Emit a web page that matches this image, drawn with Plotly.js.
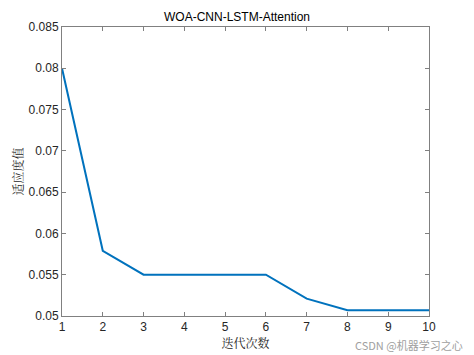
<!DOCTYPE html>
<html><head><meta charset="utf-8">
<script src="https://cdn.plot.ly/plotly-3.0.1.min.js"></script>
<style>html,body{margin:0;padding:0;background:#fff}#c{width:474px;height:355px}</style>
</head><body><div id="c"></div>
<script>
const iterations = [1,2,3,4,5,6,7,8,9,10];
const fitness = [0.0800,0.0579,0.0550,0.0550,0.0550,0.0550,0.0521,0.0507,0.0507,0.0507];
const yTicks = [0.05,0.055,0.06,0.065,0.07,0.075,0.08,0.085];
const yTickText = ['0.05','0.055','0.06','0.065','0.07','0.075','0.08','0.085'];

const axisCommon = {
  showgrid:false, zeroline:false, showline:true, linecolor:'#808080', linewidth:1,
  mirror:'ticks', ticks:'inside', ticklen:4, tickcolor:'#808080',
  tickfont:{family:'Liberation Sans, Arial, sans-serif', size:12, color:'#262626'}
};
Plotly.newPlot('c',[{
  x:iterations, y:fitness, type:'scatter', mode:'lines',
  line:{color:'#0072BD', width:2}
}],{
  width:474, height:355,
  margin:{l:62, r:45, t:27, b:39},
  paper_bgcolor:'#fff', plot_bgcolor:'#fff',
  showlegend:false,
  title:{text:'WOA-CNN-LSTM-Attention', x:0.5, xanchor:'center', y:0.953, yanchor:'middle',
    font:{family:'Liberation Sans, Arial, sans-serif', size:12, color:'#000'}},
  xaxis:Object.assign({}, axisCommon, {range:[1,10], tickvals:iterations, ticktext:iterations.map(String),
    title:{text:'迭代次数', standoff:6, font:{family:'Noto Serif CJK SC, Noto Sans CJK SC, serif', size:12, color:'#262626'}}}),
  yaxis:Object.assign({}, axisCommon, {range:[0.05,0.085], tickvals:yTicks, ticktext:yTickText,
    title:{text:'适应度值', standoff:2, font:{family:'Noto Serif CJK SC, Noto Sans CJK SC, serif', size:12, color:'#262626'}}}),
  annotations:[{text:'CSDN @机器学习之心', xref:'paper', yref:'paper', x:1.098, y:-0.1, xanchor:'right', yanchor:'middle',
    showarrow:false, font:{family:'Noto Sans CJK SC, sans-serif', size:11, color:'#a0a0a0'}}]
},{displayModeBar:false});
</script></body></html>
